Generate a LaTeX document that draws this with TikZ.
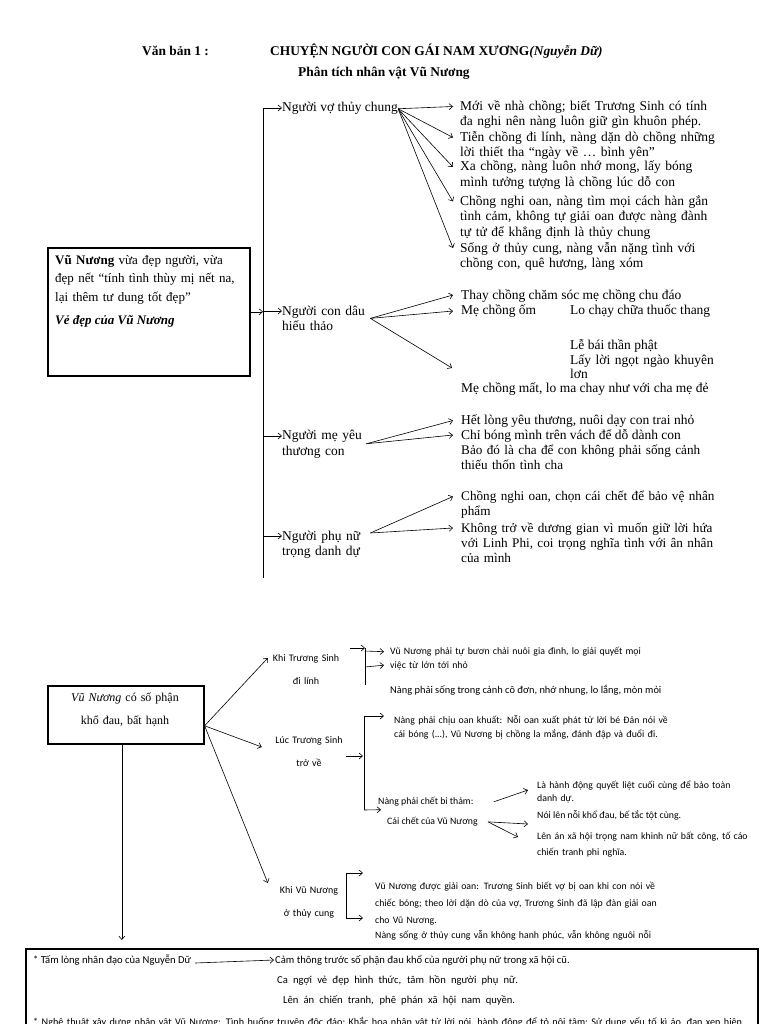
\documentclass[tikz,border=0pt]{standalone}
\usepackage{fontspec}
\setmainfont{Liberation Serif}
\newfontfamily\calfont{Carlito}
\usetikzlibrary{arrows.meta}
\newcommand\jl[1]{\makebox[\linewidth][s]{#1}}
\begin{document}
\begin{tikzpicture}[x=1pt,y=-1pt,
  tt/.style={inner sep=0pt, anchor=base west, font=\bfseries\fontsize{13.4}{15}\selectfont},
  tx/.style={inner sep=0pt, anchor=base west, align=left, font=\fontsize{13.5}{15.5}\selectfont},
  cb/.style={inner sep=0pt, anchor=base west, align=left, font=\calfont\fontsize{9.8}{13.5}\selectfont},
  cbb/.style={inner sep=0pt, anchor=base west, align=left, font=\calfont\fontsize{10.6}{13.5}\selectfont},
  cc/.style={inner sep=0pt, anchor=base, align=center, text width=90, font=\calfont\fontsize{10}{23}\selectfont},
  arr/.style={-{Straight Barb[length=3.5pt,width=6pt]}, line width=0.6pt},
  ln/.style={line width=0.6pt},
  bx/.style={draw, line width=1.6pt, inner sep=0pt, anchor=north west}]
\path[use as bounding box, clip] (0,0) rectangle (768,1024);
\fill[white] (0,0) rectangle (768,1024);

% title
\node[tt] (v1) at (142,56) {Văn bản 1 :};
\node[tt] (t0) at (270,56) {CHUYỆN NGƯỜI CON GÁI NAM XƯƠNG\textit{(Nguyễn Dữ)}};
\node[tt] (t00) at (298,76.5) {Phân tích nhân vật Vũ Nương};

% left box top
\node[bx, minimum width=202, minimum height=128] (vn) at (47,247) {};
\node[tx, text width=185, font=\fontsize{13}{18.5}\selectfont] (vnt) at (55,264)
 {\jl{\textbf{Vũ Nương} vừa đẹp người, vừa}\\\jl{đẹp nết “tính tình thùy mị nết na,}\\lại thêm tư dung tốt đẹp”};
\node[tx, font=\fontsize{13}{15}\selectfont] (vnh) at (55,324) {\textbf{\textit{Vẻ đẹp của Vũ Nương}}};

% spine
\coordinate (s1) at (263,108);
\coordinate (s2) at (263,311);
\coordinate (s3) at (263,436);
\coordinate (s4) at (263,536);
\coordinate (sb) at (263,578);
\draw[ln] (s1) -- (sb);
\draw[arr] (vn.east) -- (vn.east -| s1);

% categories
\node[tx] (c1) at (282,112) {Người vợ thủy chung};
\node[tx, text width=88, font=\fontsize{13.5}{15}\selectfont] (c2) at (282,315.5) {Người con dâu\\hiếu thảo};
\node[tx, text width=84, font=\fontsize{13.5}{16}\selectfont] (c3) at (282,439) {Người mẹ yêu\\thương con};
\node[tx, text width=88, font=\fontsize{13.5}{15.5}\selectfont] (c4) at (282,540) {Người phụ nữ\\trọng danh dự};
\draw[arr] (s1) -- (s1 -| c1.west);
\draw[arr] (s2) -- (s2 -| c2.west);
\draw[arr] (s3) -- (s3 -| c3.west);
\draw[arr] (s4) -- (s4 -| c4.west);

% group 1 items
\node[tx, text width=252] (i1) at (460,110.5) {\jl{Mới về nhà chồng; biết Trương Sinh có tính}\\đa nghi nên nàng luôn giữ gìn khuôn phép.};
\node[tx, text width=252] (i2) at (460,141.5) {\jl{Tiễn chồng đi lính, nàng dặn dò chồng những}\\lời thiết tha “ngày về … bình yên”};
\node[tx, text width=252] (i3) at (460,171) {\jl{Xa chồng, nàng luôn nhớ mong, lấy bóng}\\mình tưởng tượng là chồng lúc dỗ con};
\node[tx, text width=252] (i4) at (460,205.5) {\jl{Chồng nghi oan, nàng tìm mọi cách hàn gắn}\\\jl{tình cảm, không tự giải oan được nàng đành}\\tự tử để khẳng định là thủy chung};
\node[tx, text width=252] (i5) at (460,252) {\jl{Sống ở thủy cung, nàng vẫn nặng tình với}\\chồng con, quê hương, làng xóm};
\foreach \n in {i1,i2,i3,i4,i5}
  \draw[arr] (c1.east) -- ([shift={(-7pt,4pt)}]\n.base west);

% group 2 items
\node[tx] (j1) at (461,299) {Thay chồng chăm sóc mẹ chồng chu đáo};
\node[tx] (j2) at (461,314) {Mẹ chồng ốm};
\node[tx] (j2b) at (570,314) {Lo chạy chữa thuốc thang};
\node[tx] (j3) at (570,349) {Lễ bái thần phật};
\node[tx, text width=145, font=\fontsize{13.5}{14}\selectfont] (j4) at (570,364) {Lấy lời ngọt ngào khuyên\\lơn};
\node[tx] (j5) at (461,392) {Mẹ chồng mất, lo ma chay như với cha mẹ đẻ};
\coordinate (e23) at (452,368);
\draw[arr] (c2.east) -- ([shift={(-8pt,4pt)}]j1.base west);
\draw[arr] (c2.east) -- ([shift={(-8pt,3pt)}]j2.base west);
\draw[arr] (c2.east) -- (e23);

% group 3 items
\node[tx] (k1) at (461,424.5) {Hết lòng yêu thương, nuôi dạy con trai nhỏ};
\node[tx] (k2) at (461,439) {Chỉ bóng mình trên vách để dỗ dành con};
\node[tx, text width=280, font=\fontsize{13.2}{15}\selectfont] (k3) at (461,454) {Bảo đó là cha để con không phải sống cảnh\\thiếu thốn tình cha};
\draw[arr] (c3.east) -- ([shift={(-8pt,4pt)}]k1.base west);
\draw[arr] (c3.east) -- ([shift={(-8pt,4pt)}]k2.base west);

% group 4 items
\node[tx, text width=280, font=\fontsize{13.2}{15}\selectfont] (m1) at (461,500.5) {Chồng nghi oan, chọn cái chết để bảo vệ nhân\\phẩm};
\node[tx, text width=280, font=\fontsize{13.2}{15}\selectfont] (m2) at (461,532) {Không trở về dương gian vì muốn giữ lời hứa\\với Linh Phi, coi trọng nghĩa tình với ân nhân\\của mình};
\coordinate (o4) at ([yshift=7pt]c4.base east);
\draw[arr] (o4) -- ([shift={(-8pt,4pt)}]m1.base west);
\draw[arr] (o4) -- ([shift={(-8pt,4pt)}]m2.base west);

% ===== bottom part =====
\node[bx, minimum width=156, minimum height=58] (vb) at (47,685) {};
\node[inner sep=0pt, anchor=base, align=center, text width=150, font=\fontsize{12}{23}\selectfont] (vbt) at (125,701) {\textit{Vũ Nương} có số phận\\khổ đau, bất hạnh};
\coordinate (o2) at ([yshift=-11pt]vb.east);

\node[cc] (n1) at (306,661) {Khi Trương Sinh\\đi lính};
\node[cc] (n2) at (309,743) {Lúc Trương Sinh\\trở về};
\node[cc] (n3) at (309,893) {Khi Vũ Nương\\ở thủy cung};
\draw[arr] (o2) -- ([shift={(7pt,3pt)}]n1.base west);
\draw[arr] (o2) -- ([shift={(-2pt,-4pt)}]n2.base west);
\draw[arr] (o2) -- ([shift={(4pt,10pt)}]n3.base west);

% group b1
\coordinate (g1t) at (365,648);
\coordinate (g1a) at (365,651);
\coordinate (g1c) at (365,667);
\coordinate (g1b) at (365,685);
\draw[ln] (g1t) -- (g1b);
\draw[arr] ([shift={(-1pt,13pt)}]n1.base east) -- (g1t);
\node[cb, text width=280] (p1) at (390,654.7) {Vũ Nương phải tự bươn chải nuôi gia đình, lo giải quyết mọi\\việc từ lớn tới nhỏ};
\node[cb, font=\calfont\fontsize{10.4}{13.5}\selectfont] (p2) at (390,693) {Nàng phải sống trong cảnh cô đơn, nhớ nhung, lo lắng, mòn mỏi};
\draw[arr] (g1a) -- ([shift={(-6pt,3pt)}]p1.base west);
\draw[arr] (g1c) -- ([shift={(-6pt,-10.5pt)}]p1.base west);

% group b2
\coordinate (g2t) at (364,716);
\coordinate (g2b) at (364,810);
\coordinate (g2m) at (363,756);
\draw[ln] (g2t) -- (g2b);
\draw[arr] ([shift={(-8pt,-13pt)}]n2.base east) -- (g2m);
\node[cb, text width=300, font=\calfont\fontsize{9.8}{14}\selectfont] (p3) at (394,723) {Nàng phải chịu oan khuất: Nỗi oan xuất phát từ lời bé Đản nói về\\cái bóng (...), Vũ Nương bị chồng la mắng, đánh đập và đuổi đi.};
\draw[arr] (g2t) -- ([shift={(-10pt,7pt)}]p3.base west);
\node[cb] (q1) at (378,804.7) {Nàng phải chết bi thảm:};
\node[cb] (q2) at (387,824.7) {Cái chết của Vũ Nương};
\draw[arr] (g2b) -- ([shift={(3pt,-5pt)}]q1.base west);
\node[cb, text width=175] (r1) at (537,788) {\jl{Là hành động quyết liệt cuối cùng để bảo toàn}\\danh dự.};
\node[cb] (r2) at (537,818) {Nói lên nỗi khổ đau, bế tắc tột cùng.};
\node[cb, text width=175, font=\calfont\fontsize{9.8}{16}\selectfont] (r3) at (537,839) {\jl{Lên án xã hội trọng nam khinh nữ bất công, tố cáo}\\chiến tranh phi nghĩa.};
\draw[arr] ([xshift=20pt]q1.east) -- ([shift={(-9pt,-2pt)}]r1.base west);
\draw[arr] ([xshift=10pt]q2.east) -- ([shift={(-9pt,-6pt)}]r2.base west);
\draw[arr] ([xshift=10pt]q2.east) -- ([shift={(-19pt,2pt)}]r3.base west);

% group b3
\coordinate (g3t) at (346,873);
\coordinate (g3b) at (346,918);
\coordinate (a3t) at (363,873);
\coordinate (a3b) at (363,918);
\draw[ln] (g3t) -- (g3b);
\draw[arr] (g3t) -- (a3t);
\draw[arr] (g3b) -- (a3b);
\node[cb, text width=335, font=\calfont\fontsize{9.8}{17}\selectfont] (p4) at (375,889) {\jl{Vũ Nương được giải oan: Trương Sinh biết vợ bị oan khi con nói về}\\\jl{chiếc bóng; theo lời dặn dò của vợ, Trương Sinh đã lập đàn giải oan}\\cho Vũ Nương.};
\node[cb, text width=335] (p5) at (375,938) {\jl{Nàng sống ở thủy cung vẫn không hanh phúc, vẫn không nguôi nỗi}};

% bottom box
\node[bx, fill=white, minimum width=732, minimum height=100] (bb) at (25,948) {};
\coordinate (vbs) at ([xshift=-4pt]vb.south);
\draw[arr, shorten >=8pt] (vbs) -- (vbs |- bb.north);
\node[cbb] (t1) at (33,963) {* Tấm lòng nhân đạo của Nguyễn Dữ};
\node[cbb] (t2) at (275,963) {Cảm thông trước số phận đau khổ của người phụ nữ trong xã hội cũ.};
\node[cbb] (t3) at (277,983.5) {\makebox[241pt][s]{Ca ngợi vẻ đẹp hình thức, tâm hồn người phụ nữ.}};
\node[cbb] (t4) at (283,1003) {\makebox[232pt][s]{Lên án chiến tranh, phê phán xã hội nam quyền.}};
\node[cb, text width=714, font=\calfont\fontsize{10.2}{13}\selectfont] (t5) at (33,1025.5) {\jl{* Nghệ thuật xây dựng nhân vật Vũ Nương: Tình huống truyện độc đáo; Khắc họa nhân vật từ lời nói, hành động để tỏ nội tâm; Sử dụng yếu tố kì ảo, đan xen hiện}};
\draw[arr] ([xshift=4pt]t1.base east) -- ([shift={(-1pt,3pt)}]t2.base west);
\end{tikzpicture}
\end{document}
